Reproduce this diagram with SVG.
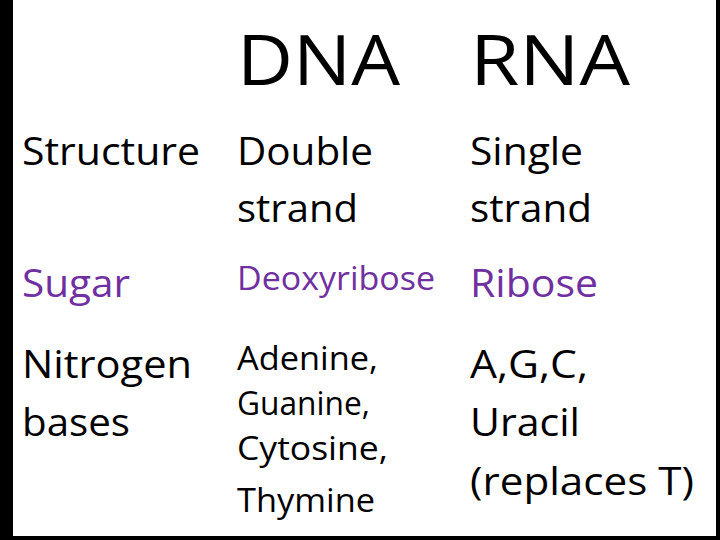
<svg xmlns="http://www.w3.org/2000/svg" width="720" height="540" viewBox="0 0 720 540">
<style>
text{font-family:"Open Sans","Noto Sans",sans-serif;fill:#000}
.h{font-size:70px}
.c{font-size:38px}
.s{font-size:32px}
.p{fill:#7030A0}
</style>
<rect width="720" height="540" fill="#000"/>
<rect x="13" y="0" width="703" height="536" fill="#fff"/>
<g id="header">
<text class="h" x="237" y="85" textLength="163" lengthAdjust="spacingAndGlyphs">DNA</text>
<text class="h" x="470" y="85" textLength="160" lengthAdjust="spacingAndGlyphs">RNA</text>
</g>
<g id="row-structure">
<text class="c" x="22" y="165" textLength="178" lengthAdjust="spacingAndGlyphs">Structure</text>
<text class="c" x="237" y="165" textLength="136" lengthAdjust="spacingAndGlyphs">Double</text>
<text class="c" x="237" y="222" textLength="121" lengthAdjust="spacingAndGlyphs">strand</text>
<text class="c" x="470" y="165" textLength="113" lengthAdjust="spacingAndGlyphs">Single</text>
<text class="c" x="470" y="222" textLength="122" lengthAdjust="spacingAndGlyphs">strand</text>
</g>
<g id="row-sugar">
<text class="c p" x="22" y="297" textLength="108" lengthAdjust="spacingAndGlyphs">Sugar</text>
<text class="s p" x="237" y="290" textLength="198" lengthAdjust="spacingAndGlyphs">Deoxyribose</text>
<text class="c p" x="470" y="297" textLength="128" lengthAdjust="spacingAndGlyphs">Ribose</text>
</g>
<g id="row-bases">
<text class="c" x="22" y="378" textLength="170" lengthAdjust="spacingAndGlyphs">Nitrogen</text>
<text class="c" x="22" y="436" textLength="108" lengthAdjust="spacingAndGlyphs">bases</text>
<text class="s" x="237" y="370" textLength="141" lengthAdjust="spacingAndGlyphs">Adenine,</text>
<text class="s" x="237" y="415" textLength="133" lengthAdjust="spacingAndGlyphs">Guanine,</text>
<text class="s" x="237" y="460" textLength="151" lengthAdjust="spacingAndGlyphs">Cytosine,</text>
<text class="s" x="237" y="512" textLength="138" lengthAdjust="spacingAndGlyphs">Thymine</text>
<text class="c" x="470" y="378" textLength="118" lengthAdjust="spacingAndGlyphs">A,G,C,</text>
<text class="c" x="470" y="436" textLength="110" lengthAdjust="spacingAndGlyphs">Uracil</text>
<text class="c" x="470" y="495" textLength="224" lengthAdjust="spacingAndGlyphs">(replaces T)</text>
</g>
</svg>
